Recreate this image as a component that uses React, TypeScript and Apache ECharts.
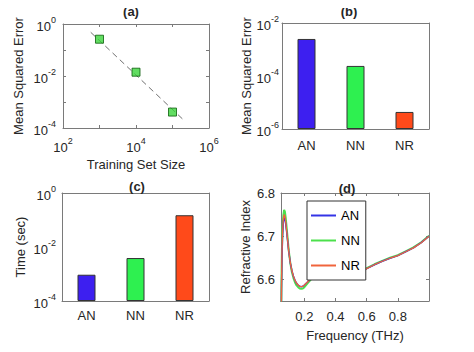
import React, { useEffect, useRef } from 'react';
import * as echarts from 'echarts';

// Panel (a)
const trainSizes = [1e3, 1e4, 1e5];
const trainMSE = [0.26, 0.014, 4.1e-4];
const fitX = [575, 1.9e5];
const fitY = [0.48, 2.2e-4];

// Panels (b) & (c)
const methods = ['AN', 'NN', 'NR'];
const methodMSE = [2.5e-3, 2.4e-4, 4.4e-6];
const methodTime = [9.4e-4, 3.9e-3, 0.15];
const methodColors = ['#3d1ff0', '#2ef050', '#ff4a1a'];

// Panel (d)
const freq = [0.05, 0.053, 0.056, 0.06, 0.065, 0.07, 0.075, 0.08, 0.085, 0.09,
  0.1, 0.11, 0.12, 0.13, 0.14, 0.15, 0.16, 0.17, 0.18, 0.19, 0.2,
  0.22, 0.24, 0.26, 0.28, 0.3, 0.32, 0.34, 0.36, 0.38, 0.4, 0.42, 0.44, 0.46, 0.48, 0.5, 0.52,
  0.55, 0.6, 0.65, 0.7, 0.75, 0.8, 0.85, 0.9, 0.95, 1.0];
const riAN = [6.42, 6.57, 6.65, 6.70, 6.732, 6.744, 6.741, 6.729, 6.714, 6.698,
  6.664, 6.638, 6.620, 6.607, 6.598, 6.591, 6.587, 6.584, 6.583, 6.584, 6.587,
  6.594, 6.601, 6.606, 6.609, 6.608, 6.605, 6.603, 6.605, 6.609, 6.613, 6.615, 6.614, 6.611, 6.608, 6.607, 6.609,
  6.615, 6.625, 6.634, 6.642, 6.649, 6.655, 6.664, 6.673, 6.685, 6.700];
const riNN = [6.43, 6.59, 6.67, 6.72, 6.748, 6.761, 6.757, 6.743, 6.725, 6.705,
  6.666, 6.637, 6.617, 6.603, 6.593, 6.586, 6.582, 6.579, 6.578, 6.579, 6.582,
  6.591, 6.599, 6.605, 6.608, 6.607, 6.603, 6.601, 6.603, 6.608, 6.612, 6.614, 6.613, 6.610, 6.607, 6.606, 6.608,
  6.615, 6.626, 6.635, 6.643, 6.650, 6.656, 6.665, 6.674, 6.686, 6.701];
const riNR = [6.42, 6.58, 6.66, 6.71, 6.740, 6.750, 6.746, 6.734, 6.717, 6.700,
  6.664, 6.638, 6.620, 6.607, 6.598, 6.591, 6.587, 6.584, 6.583, 6.584, 6.587,
  6.594, 6.601, 6.606, 6.609, 6.608, 6.605, 6.603, 6.605, 6.609, 6.613, 6.615, 6.614, 6.611, 6.608, 6.607, 6.609,
  6.615, 6.625, 6.634, 6.642, 6.649, 6.655, 6.664, 6.673, 6.685, 6.700];
const lineColors = { AN: '#3434e6', NN: '#4ce04c', NR: '#f0643c' };

// Ticks
const ticksAX = [1e2, 1e3, 1e4, 1e5, 1e6];
const labelsAX = [1e2, 1e4, 1e6];
const ticksAY = [1e-4, 1e-3, 1e-2, 1e-1, 1];
const labelsAY = [1e-4, 1e-2, 1];
const ticksBY = [1e-6, 1e-5, 1e-4, 1e-3, 1e-2];
const labelsBY = [1e-6, 1e-4, 1e-2];
const ticksCY = [1e-4, 1e-3, 1e-2, 1e-1, 1];
const labelsCY = [1e-4, 1e-2, 1];
const ticksDX = [0.2, 0.4, 0.6, 0.8];
const ticksDY = [6.6, 6.7, 6.8];

const FONT = '"Liberation Sans", Arial, sans-serif';
const TXT = '#262626';
const AX = '#7a7a7a';

const powFmt = (v: number) => {
  const e = Math.round(Math.log10(v));
  return `{b|10}{s|${e}}`;
};
const rich = {
  b: { fontSize: 13, fontFamily: FONT, color: TXT, lineHeight: 18, verticalAlign: 'bottom' },
  s: { fontSize: 9, fontFamily: FONT, color: TXT, lineHeight: 18, verticalAlign: 'top' },
};

function baseAxis(extra: any) {
  return {
    axisLine: { show: true, lineStyle: { color: AX, width: 1 } },
    splitLine: { show: false },
    nameTextStyle: { fontSize: 13, fontFamily: FONT, color: TXT },
    ...extra,
  };
}

function mirrorLog(kind: 'x' | 'y', grid: number, min: number, max: number, ticks: number[]) {
  return baseAxis({
    type: 'log', logBase: 10, gridIndex: grid, min, max,
    position: kind === 'x' ? 'top' : 'right',
    axisTick: { inside: true, length: 3, customValues: ticks, lineStyle: { color: AX } },
    axisLabel: { show: false },
  });
}

function panelTitle(text: string, cx: number, top: number) {
  return {
    text, left: cx, top, textAlign: 'center', padding: 0,
    textStyle: { fontSize: 13, fontWeight: 'bold', fontFamily: FONT, color: TXT, lineHeight: 16 },
  };
}

export default function App() {
  const ref = useRef<HTMLDivElement>(null);
  useEffect(() => {
    if (!ref.current) return;
    const chart = echarts.init(ref.current, null, { renderer: 'svg' });
    const option: any = {
      animation: false,
      backgroundColor: '#ffffff',
      textStyle: { fontFamily: FONT },
      title: [
        panelTitle('(a)', 131, 3),
        panelTitle('(b)', 349, 3),
        panelTitle('(c)', 137, 178),
        panelTitle('(d)', 347, 180),
      ],
      grid: [
        { left: 63, top: 24, width: 146, height: 104 },
        { left: 282, top: 23, width: 147, height: 106 },
        { left: 62, top: 193, width: 147, height: 108 },
        { left: 281, top: 193, width: 148, height: 108 },
      ],
      legend: {
        data: ['AN', 'NN', 'NR'],
        orient: 'vertical',
        left: 307, top: 201,
        icon: 'rect',
        itemWidth: 25, itemHeight: 2, itemGap: 12,
        padding: [8, 6, 8, 4],
        borderColor: '#333', borderWidth: 1, backgroundColor: '#ffffff',
        textStyle: { fontSize: 13, fontFamily: FONT, color: '#000' },
      },
      xAxis: [
        baseAxis({
          type: 'log', logBase: 10, gridIndex: 0, min: 1e2, max: 1e6,
          name: 'Training Set Size', nameLocation: 'middle', nameGap: 30,
          axisTick: { inside: true, length: 3, customValues: ticksAX, lineStyle: { color: AX } },
          axisLabel: { customValues: labelsAX, formatter: powFmt, rich, margin: 8 },
        }),
        baseAxis({
          type: 'category', gridIndex: 1, data: methods,
          axisTick: { inside: true, length: 3, alignWithLabel: true, lineStyle: { color: AX } },
          axisLabel: { fontSize: 13, fontFamily: FONT, color: TXT, margin: 10 },
        }),
        baseAxis({
          type: 'category', gridIndex: 2, data: methods,
          axisTick: { inside: true, length: 3, alignWithLabel: true, lineStyle: { color: AX } },
          axisLabel: { fontSize: 13, fontFamily: FONT, color: TXT, margin: 8 },
        }),
        baseAxis({
          type: 'value', gridIndex: 3, min: 0.05, max: 1,
          name: 'Frequency (THz)', nameLocation: 'middle', nameGap: 28,
          axisTick: { inside: true, length: 3, customValues: ticksDX, lineStyle: { color: AX } },
          axisLabel: { customValues: ticksDX, fontSize: 13, fontFamily: FONT, color: TXT, margin: 9, formatter: (v: number) => v.toFixed(1) },
        }),
        mirrorLog('x', 0, 1e2, 1e6, ticksAX),
        baseAxis({
          type: 'category', gridIndex: 1, data: methods, position: 'top',
          axisTick: { show: false }, axisLabel: { show: false },
        }),
        baseAxis({
          type: 'category', gridIndex: 2, data: methods, position: 'top',
          axisTick: { show: false }, axisLabel: { show: false },
        }),
        baseAxis({
          type: 'value', gridIndex: 3, min: 0.05, max: 1, position: 'top',
          axisTick: { inside: true, length: 3, customValues: ticksDX, lineStyle: { color: AX } },
          axisLabel: { show: false },
        }),
      ],
      yAxis: [
        baseAxis({
          type: 'log', logBase: 10, gridIndex: 0, min: 1e-4, max: 1,
          name: 'Mean Squared Error', nameLocation: 'middle', nameGap: 38, nameRotate: 90,
          axisTick: { inside: true, length: 3, customValues: ticksAY, lineStyle: { color: AX } },
          axisLabel: { customValues: labelsAY, formatter: powFmt, rich, margin: 7 },
        }),
        baseAxis({
          type: 'log', logBase: 10, gridIndex: 1, min: 1e-6, max: 1e-2, startValue: 1e-6,
          name: 'Mean Squared Error', nameLocation: 'middle', nameGap: 28, nameRotate: 90,
          axisTick: { inside: true, length: 3, customValues: ticksBY, lineStyle: { color: AX } },
          axisLabel: { customValues: labelsBY, formatter: powFmt, rich, margin: 3 },
        }),
        baseAxis({
          type: 'log', logBase: 10, gridIndex: 2, min: 1e-4, max: 1, startValue: 1e-4,
          name: 'Time (sec)', nameLocation: 'middle', nameGap: 35, nameRotate: 90,
          axisTick: { inside: true, length: 3, customValues: ticksCY, lineStyle: { color: AX } },
          axisLabel: { customValues: labelsCY, formatter: powFmt, rich, margin: 6 },
        }),
        baseAxis({
          type: 'value', gridIndex: 3, min: 6.55, max: 6.8,
          name: 'Refractive Index', nameLocation: 'middle', nameGap: 29, nameRotate: 90,
          axisTick: { inside: true, length: 3, customValues: ticksDY, lineStyle: { color: AX } },
          axisLabel: { customValues: ticksDY, fontSize: 13, fontFamily: FONT, color: TXT, margin: 6, formatter: (v: number) => v.toFixed(1) },
        }),
        mirrorLog('y', 0, 1e-4, 1, ticksAY),
        mirrorLog('y', 1, 1e-6, 1e-2, ticksBY),
        mirrorLog('y', 2, 1e-4, 1, ticksCY),
        baseAxis({
          type: 'value', gridIndex: 3, min: 6.55, max: 6.8, position: 'right',
          axisTick: { inside: true, length: 3, customValues: ticksDY, lineStyle: { color: AX } },
          axisLabel: { show: false },
        }),
      ],
      series: [
        {
          type: 'line', xAxisIndex: 0, yAxisIndex: 0, symbol: 'none',
          data: fitX.map((x, i) => [x, fitY[i]]),
          lineStyle: { color: '#707070', width: 1, type: [6, 4] },
          silent: true, z: 2,
        },
        {
          type: 'scatter', xAxisIndex: 0, yAxisIndex: 0, symbol: 'rect', symbolSize: 8,
          data: trainSizes.map((x, i) => [x, trainMSE[i]]),
          itemStyle: { color: '#3bd43b', borderColor: '#0b5e0b', borderWidth: 1 },
          z: 3,
        },
        {
          type: 'bar', xAxisIndex: 1, yAxisIndex: 1, barWidth: 18,
          data: methodMSE.map((v, i) => ({ value: v, itemStyle: { color: methodColors[i] } })),
          itemStyle: { borderColor: '#333', borderWidth: 1 },
        },
        {
          type: 'bar', xAxisIndex: 2, yAxisIndex: 2, barWidth: 18,
          data: methodTime.map((v, i) => ({ value: v, itemStyle: { color: methodColors[i] } })),
          itemStyle: { borderColor: '#333', borderWidth: 1 },
        },
        {
          name: 'NN', type: 'line', xAxisIndex: 3, yAxisIndex: 3, symbol: 'none', clip: true,
          data: freq.map((f, i) => [f, riNN[i]]),
          color: lineColors.NN, lineStyle: { color: lineColors.NN, width: 2 },
        },
        {
          name: 'AN', type: 'line', xAxisIndex: 3, yAxisIndex: 3, symbol: 'none', clip: true,
          data: freq.map((f, i) => [f, riAN[i]]),
          color: lineColors.AN, lineStyle: { color: lineColors.AN, width: 1.5 },
        },
        {
          name: 'NR', type: 'line', xAxisIndex: 3, yAxisIndex: 3, symbol: 'none', clip: true,
          data: freq.map((f, i) => [f, riNR[i]]),
          color: lineColors.NR, lineStyle: { color: lineColors.NR, width: 1.3 },
        },
      ],
    };
    chart.setOption(option);
    return () => chart.dispose();
  }, []);
  return <div ref={ref} style={{ width: 474, height: 352, margin: -8 }} />;
}
